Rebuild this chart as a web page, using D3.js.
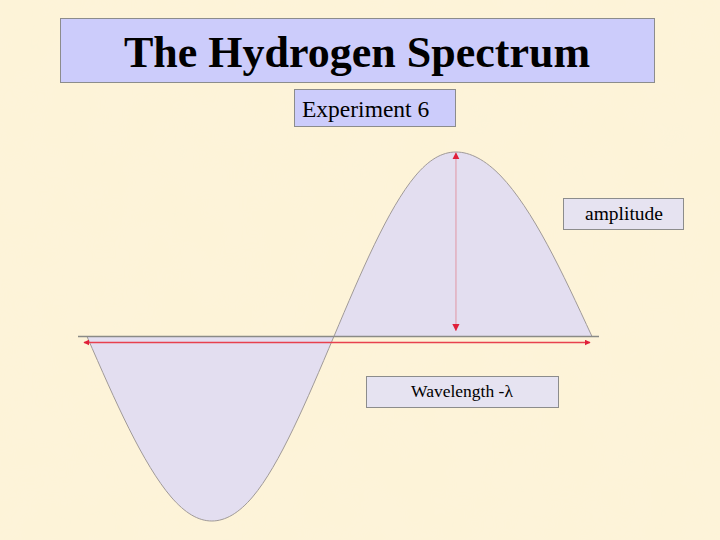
<!DOCTYPE html>
<html lang="en">
<head>
<meta charset="utf-8">
<title>The Hydrogen Spectrum</title>
<script src="https://d3js.org/d3.v7.min.js"></script>
<style>
    html, body { margin: 0; padding: 0; background: #fdf2d6; }
    svg { display: block; }
</style>
</head>
<body>
<svg id="slide"></svg>
<script>
// wave: phase (deg) and displacement (fraction of amplitude)
const phase = [0, 30, 60, 89, 118, 147, 176, 205, 234, 263, 295, 328, 360];
const displacement = [0, -0.5, -0.87, -1, -0.87, -0.5, 0, 0.5, 0.87, 1, 0.87, 0.5, 0];
const labels = { title: "The Hydrogen Spectrum", sub: "Experiment 6", amp: "amplitude", wave: "Wavelength -\u03bb" };

const width = 720, height = 540;
const svg = d3.select("#slide").attr("width", width).attr("height", height);

// paper texture
const defs = svg.append("defs");
const f = defs.append("filter").attr("id", "paper").attr("x", 0).attr("y", 0).attr("width", "100%").attr("height", "100%");
f.append("feTurbulence").attr("type", "fractalNoise").attr("baseFrequency", 0.02).attr("numOctaves", 3).attr("seed", 4);
f.append("feColorMatrix").attr("values", "0 0 0 0 0.97  0 0 0 0 0.90  0 0 0 0 0.74  0 0 0 0.3 -0.08");
f.append("feComposite").attr("in2", "SourceGraphic").attr("operator", "in");

const mk = defs.append("marker").attr("id", "head").attr("viewBox", "0 0 10 10")
    .attr("refX", 9).attr("refY", 5).attr("markerWidth", 4).attr("markerHeight", 4)
    .attr("orient", "auto-start-reverse");
mk.append("path").attr("d", "M0,0L10,5L0,10z").attr("fill", "#e0203a");

svg.append("rect").attr("width", width).attr("height", height).attr("fill", "#fdf3d8");
svg.append("rect").attr("width", width).attr("height", height).attr("fill", "#fdf3d8").attr("filter", "url(#paper)");

// scales
const x = d3.scaleLinear().domain([0, 360]).range([87, 592]);
const y = d3.scaleLinear().domain([-1, 1]).range([521, 152]);
const pts = phase.map((p, i) => [p, displacement[i]]);

const area = d3.area()
    .x(d => x(d[0])).y0(y(0)).y1(d => y(d[1]))
    .curve(d3.curveNatural);
const line = d3.line()
    .x(d => x(d[0])).y(d => y(d[1]))
    .curve(d3.curveNatural);

svg.append("path").datum(pts).attr("d", area).attr("fill", "#e3def0");
svg.append("path").datum(pts).attr("d", line).attr("fill", "none")
    .attr("stroke", "#a09a98").attr("stroke-width", 1);

// baseline
svg.append("line").attr("x1", 78).attr("x2", 599).attr("y1", y(0)).attr("y2", y(0))
    .attr("stroke", "#8a8a86").attr("stroke-width", 1.5);

// wavelength arrow
svg.append("line").attr("x1", x(0) - 3).attr("x2", x(360) - 2).attr("y1", y(0) + 6).attr("y2", y(0) + 6)
    .attr("stroke", "#e8404e").attr("stroke-width", 1.5)
    .attr("marker-start", "url(#head)").attr("marker-end", "url(#head)");

// amplitude arrow
const peakX = x(phase[displacement.indexOf(1)]);
svg.append("line").attr("x1", peakX).attr("x2", peakX).attr("y1", y(1) + 1).attr("y2", y(0) - 6)
    .attr("stroke", "#e2b6c6").attr("stroke-width", 1.8)
    .attr("marker-start", "url(#head)").attr("marker-end", "url(#head)");

// boxes
function box(x0, y0, w, h, fill, text, size, weight, anchor, tx, ty) {
    svg.append("rect").attr("x", x0).attr("y", y0).attr("width", w).attr("height", h)
        .attr("fill", fill).attr("stroke", "#8c8c8c").attr("stroke-width", 1);
    svg.append("text").attr("x", tx).attr("y", ty)
        .attr("text-anchor", anchor)
        .attr("font-family", "'Liberation Serif', 'Times New Roman', serif")
        .attr("font-size", size).attr("font-weight", weight)
        .attr("fill", "#000").text(text);
}
box(60.5, 18.5, 594, 64, "#ccccfb", labels.title, 44, "bold", "middle", 357, 67);
box(294.5, 89.5, 161, 37, "#ccccfb", labels.sub, 23.5, "normal", "start", 302, 117);
box(563.5, 198.5, 120, 31, "#e6e3f1", labels.amp, 19.5, "normal", "middle", 624, 220);
box(366.5, 376.5, 192, 31, "#e6e3f1", labels.wave, 17.5, "normal", "middle", 462, 397);
</script>
</body>
</html>
